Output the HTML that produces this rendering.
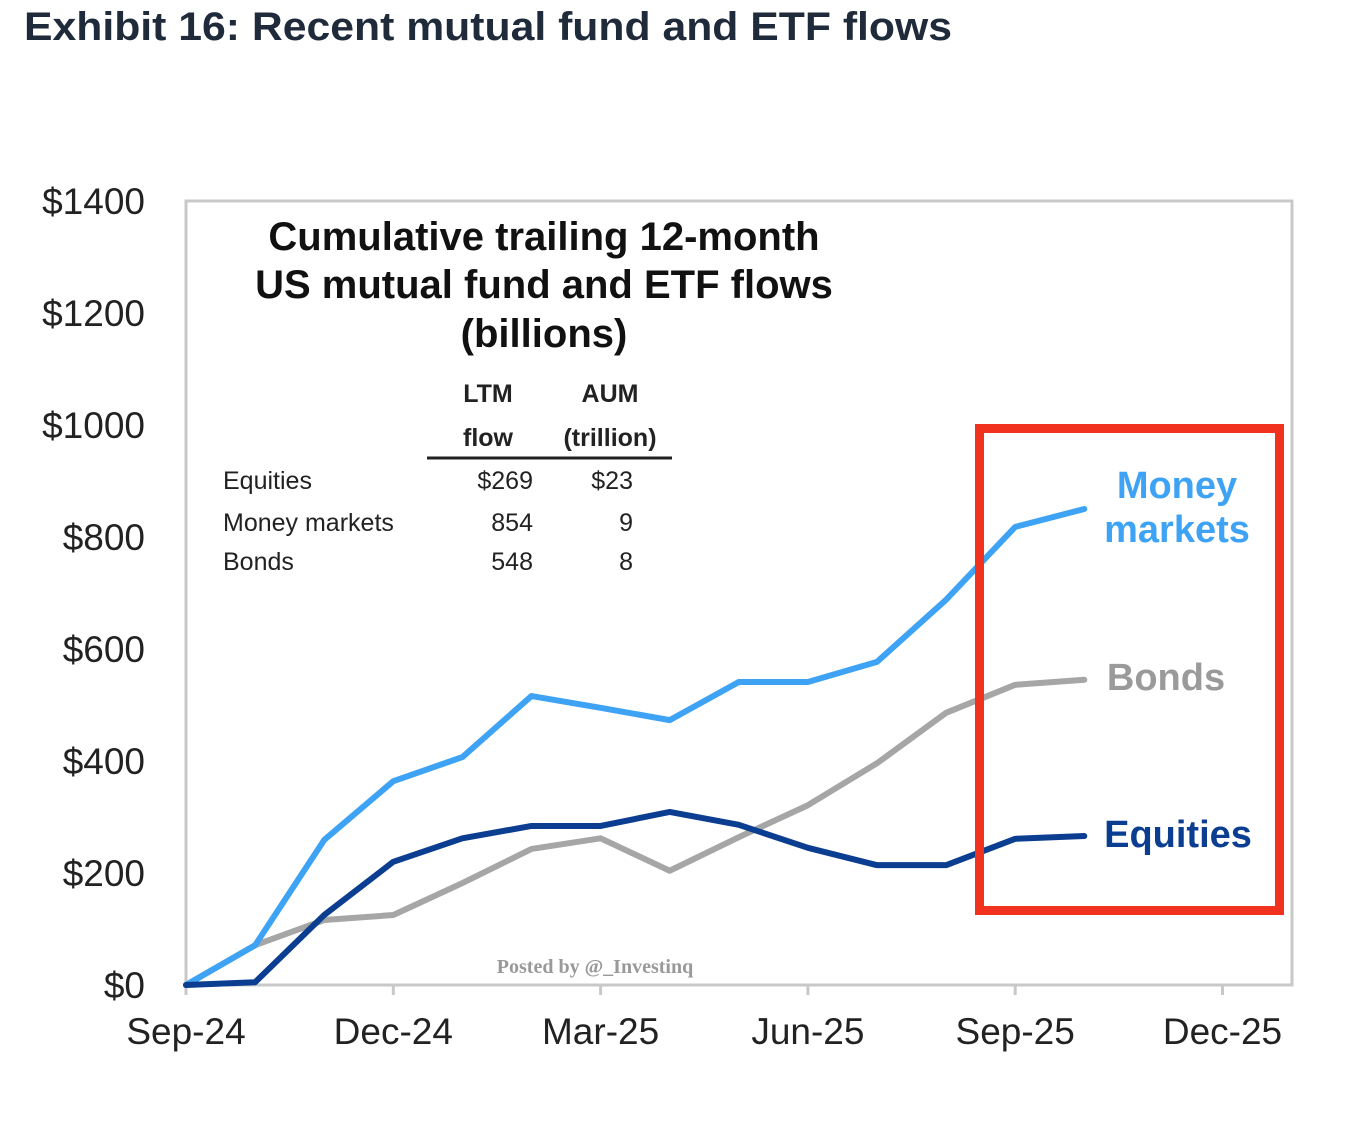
<!DOCTYPE html>
<html><head><meta charset="utf-8"><style>
body{margin:0;background:#fff;width:1350px;height:1118px;overflow:hidden;font-family:"Liberation Sans",Arial,sans-serif}
</style></head><body>
<svg width="1350" height="1118" font-family="Liberation Sans, Arial, sans-serif">
<text x="24" y="40" font-size="40" font-weight="bold" fill="#1f2a3a" textLength="928" lengthAdjust="spacingAndGlyphs">Exhibit 16: Recent mutual fund and ETF flows</text>
<rect x="186" y="201" width="1106" height="784" fill="none" stroke="#c8c8c8" stroke-width="3"/>
<g id="yaxis"></g>
<g id="xaxis"></g>
<g text-anchor="middle" font-weight="bold" font-size="40" fill="#111">
<text x="544" y="250">Cumulative trailing 12-month</text>
<text x="544" y="298">US  mutual fund and ETF flows</text>
<text x="544" y="347">(billions)</text>
</g>
<g font-size="25" fill="#222">
<text x="488" y="402" text-anchor="middle" font-weight="bold">LTM</text>
<text x="610" y="402" text-anchor="middle" font-weight="bold">AUM</text>
<text x="488" y="446" text-anchor="middle" font-weight="bold">flow</text>
<text x="610" y="446" text-anchor="middle" font-weight="bold">(trillion)</text>
<line x1="427" y1="458" x2="672" y2="458" stroke="#222" stroke-width="3"/>
<text x="223" y="489">Equities</text><text x="533" y="489" text-anchor="end">$269</text><text x="633" y="489" text-anchor="end">$23</text>
<text x="223" y="531">Money markets</text><text x="533" y="531" text-anchor="end">854</text><text x="633" y="531" text-anchor="end">9</text>
<text x="223" y="570">Bonds</text><text x="533" y="570" text-anchor="end">548</text><text x="633" y="570" text-anchor="end">8</text>
</g>
<g id="series"></g>
<text x="595" y="973" text-anchor="middle" font-family="Liberation Serif,serif" font-weight="bold" font-size="20" fill="#999">Posted by @_Investinq</text>
<rect x="979.5" y="428.5" width="300" height="482" fill="none" stroke="#f0321e" stroke-width="9"/>
<g font-weight="bold" font-size="38" text-anchor="middle">
<text x="1177" y="498" fill="#3ea3f5">Money</text>
<text x="1177" y="542" fill="#3ea3f5">markets</text>
<text x="1166" y="690" fill="#9a9a9a">Bonds</text>
<text x="1178" y="847" fill="#0b3d91">Equities</text>
</g>
</svg>
<script>
const months=["Sep-24","Oct-24","Nov-24","Dec-24","Jan-25","Feb-25","Mar-25","Apr-25","May-25","Jun-25","Jul-25","Aug-25","Sep-25","Oct-25"];
const moneyMarkets=[0,71,259,364,407,516,495,473,541,541,577,688,818,850];
const bonds=[0,71,116,125,182,243,262,204,264,321,396,486,536,545];
const equities=[0,5,125,220,262,284,284,309,286,245,214,214,261,266];
const yTicks=[0,200,400,600,800,1000,1200,1400];
const xTickLabels=["Sep-24","Dec-24","Mar-25","Jun-25","Sep-25","Dec-25"];
const NS="http://www.w3.org/2000/svg";
const x0=186,dx=69.1,y0=985,ky=784/1400;
const X=i=>x0+i*dx, Y=v=>y0-v*ky;
const ya=document.getElementById('yaxis');
yTicks.forEach(v=>{const t=document.createElementNS(NS,'text');


t.setAttribute('x',145);t.setAttribute('y',Y(v)+13);t.setAttribute('text-anchor','end');t.setAttribute('font-size','37');t.setAttribute('fill','#222');t.textContent='$'+v;ya.appendChild(t);});
const xa=document.getElementById('xaxis');
xTickLabels.forEach((l,k)=>{const x=X(k*3);
const ln=document.createElementNS(NS,'line');


ln.setAttribute('x1',x);ln.setAttribute('x2',x);ln.setAttribute('y1',985);ln.setAttribute('y2',995);ln.setAttribute('stroke','#c8c8c8');ln.setAttribute('stroke-width','3');xa.appendChild(ln);
const t=document.createElementNS(NS,'text');


t.setAttribute('x',x);t.setAttribute('y',1044);t.setAttribute('text-anchor','middle');t.setAttribute('font-size','37');t.setAttribute('fill','#222');t.textContent=l;xa.appendChild(t);});
const sg=document.getElementById('series');
[[bonds,'#a6a6a6','bonds-line'],[moneyMarkets,'#3ea3f5','money-markets-line'],[equities,'#0b3d91','equities-line']].forEach(([d,c,n])=>{
const p=document.createElementNS(NS,'polyline');


p.setAttribute('points',d.map((v,i)=>X(i)+','+Y(v)).join(' '));
p.setAttribute('fill','none');p.setAttribute('stroke',c);p.setAttribute('stroke-width','6');p.setAttribute('stroke-linejoin','round');p.setAttribute('stroke-linecap','round');sg.appendChild(p);});
</script>
</body></html>
